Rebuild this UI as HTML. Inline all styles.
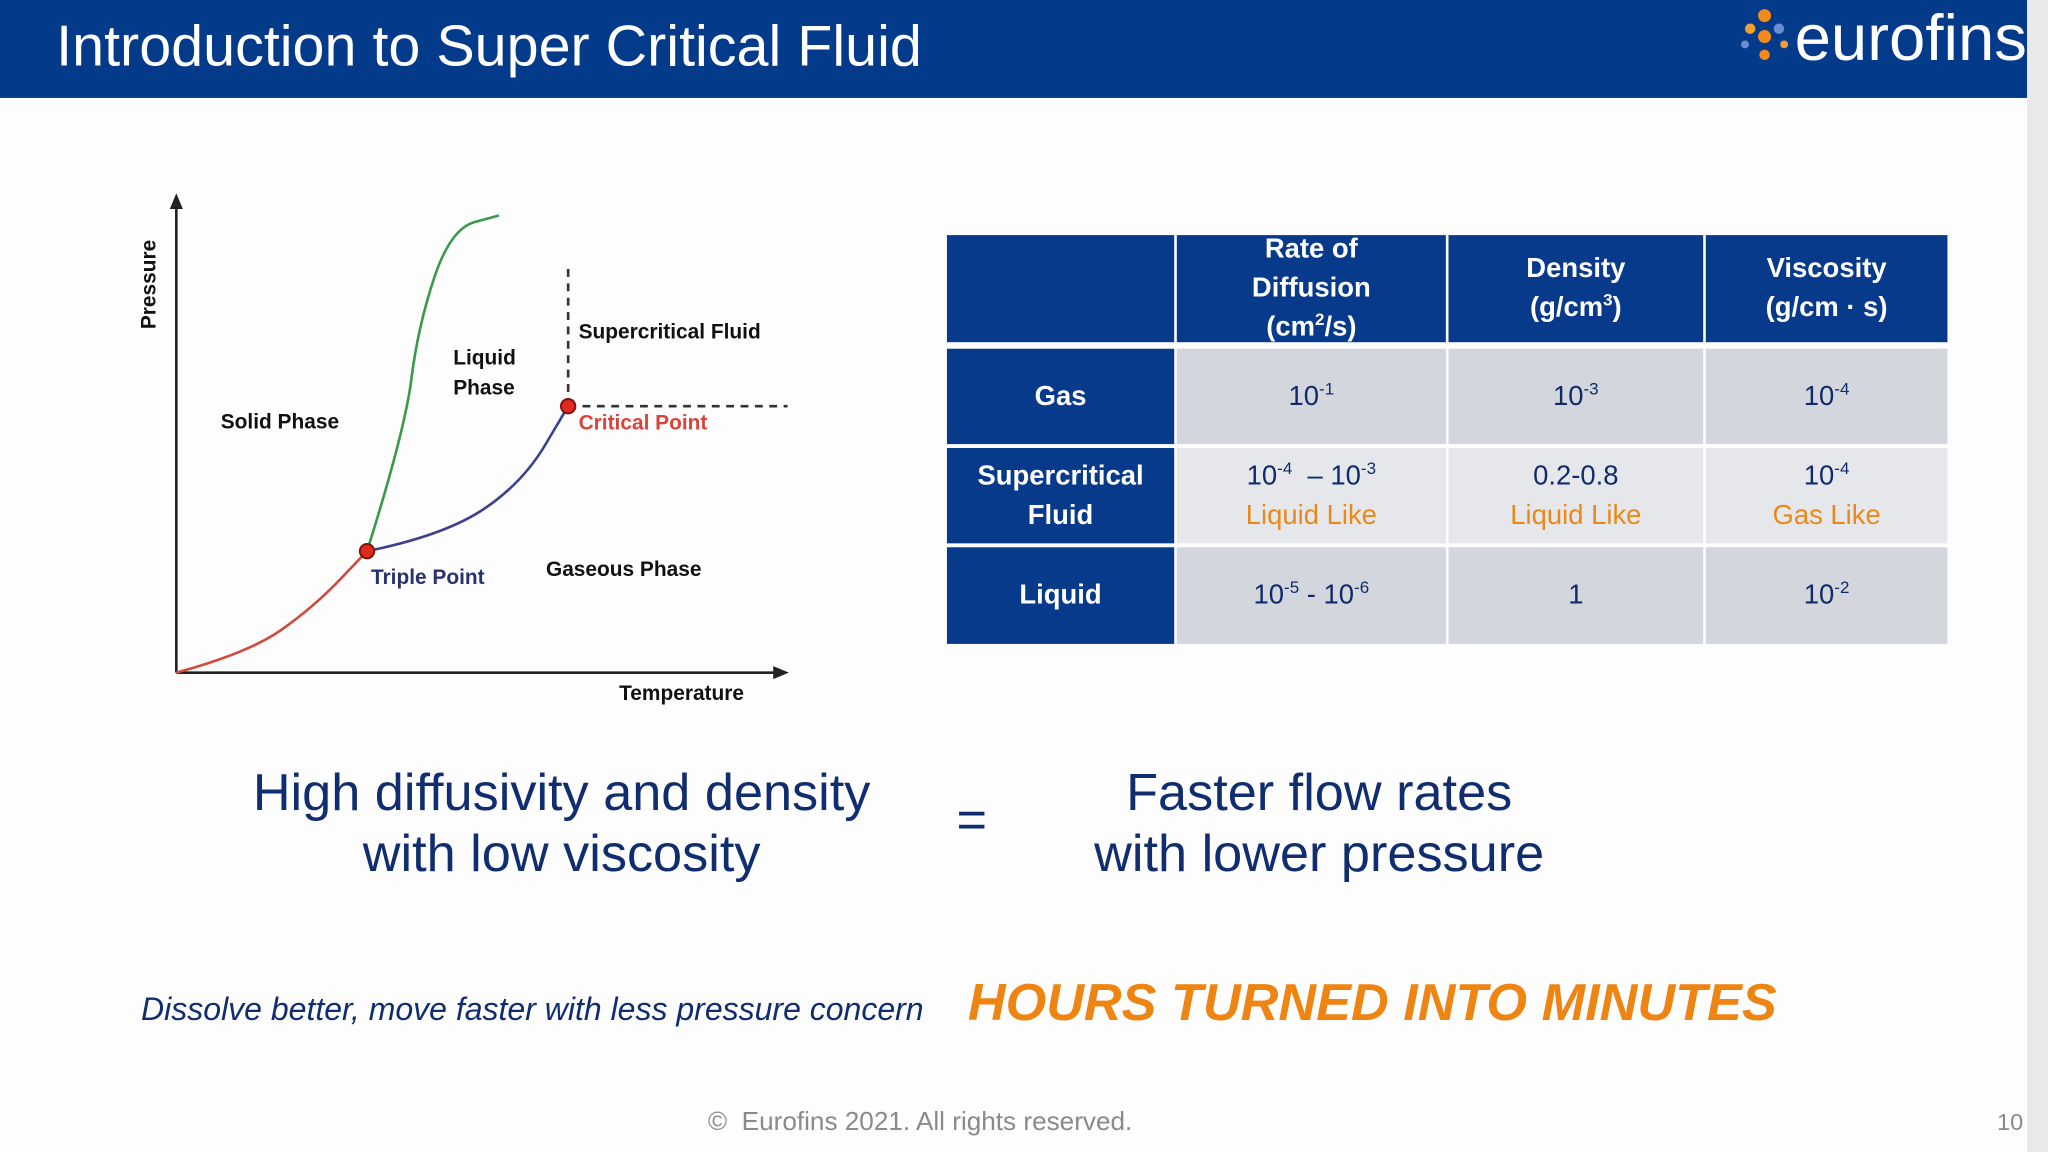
<!DOCTYPE html>
<html><head><meta charset="utf-8">
<style>
html,body{margin:0;padding:0;width:2048px;height:1152px;overflow:hidden;background:#fff}
#s{position:absolute;left:0;top:0;width:1568px;height:882px;transform:scale(1.306122);transform-origin:0 0;font-family:"Liberation Sans",Arial,sans-serif;background:#fdfdfd}
.hdr{position:absolute;left:0;top:0;width:1552px;height:75px;background:#033a8a}
.ttl{position:absolute;left:43px;top:11px;color:#fff;font-size:44px;white-space:nowrap}
.logo{position:absolute;left:1328px;top:0px;color:#fff;font-size:50px;width:224px;overflow:hidden;white-space:nowrap}
.rstrip{position:absolute;left:1552px;top:0;width:16px;height:882px;background:#e9e9ec}
.cell{position:absolute;display:flex;align-items:center;justify-content:center;text-align:center;font-size:21px;line-height:30px;color:#0f2b6b}
.b{background:#083a8c;color:#fff;font-weight:bold}
.g1{background:#d3d6dc}.g2{background:#e6e7eb}
.or{color:#e8891a}
sup{font-size:13px;vertical-align:8px;line-height:0}
.big{position:absolute;font-size:40px;color:#102d70;text-align:center;line-height:47px;white-space:nowrap}
</style></head><body>
<div id="s">
<div class="hdr"></div>
<div class="ttl">Introduction to Super Critical Fluid</div>
<div class="logo"><svg width="46" height="46" style="vertical-align:-4px"><circle cx="23" cy="8" r="5" fill="#f08a1c"/><circle cx="12" cy="18" r="4" fill="#f0a030"/><circle cx="34" cy="18" r="4" fill="#6a8fd0"/><circle cx="23" cy="24" r="5" fill="#f08a1c"/><circle cx="8" cy="30" r="3" fill="#6a8fd0"/><circle cx="38" cy="30" r="3" fill="#f0a030"/><circle cx="23" cy="38" r="4" fill="#f08a1c"/></svg>eurofins</div>
<div class="rstrip"></div>

<svg id="chart" style="position:absolute;left:0;top:0" width="700" height="560"></svg>

<div>
<div class="cell b" style="left:725px;top:180px;width:174px;height:82px"></div>
<div class="cell b" style="left:901px;top:180px;width:206px;height:82px"><div>Rate of<br>Diffusion<br>(cm<sup>2</sup>/s)</div></div>
<div class="cell b" style="left:1109px;top:180px;width:195px;height:82px"><div>Density<br>(g/cm<sup>3</sup>)</div></div>
<div class="cell b" style="left:1306px;top:180px;width:185px;height:82px"><div>Viscosity<br>(g/cm · s)</div></div>

<div class="cell b" style="left:725px;top:267px;width:174px;height:73px">Gas</div>
<div class="cell g1" style="left:901px;top:267px;width:206px;height:73px"><div>10<sup>-1</sup></div></div>
<div class="cell g1" style="left:1109px;top:267px;width:195px;height:73px"><div>10<sup>-3</sup></div></div>
<div class="cell g1" style="left:1306px;top:267px;width:185px;height:73px"><div>10<sup>-4</sup></div></div>

<div class="cell b" style="left:725px;top:343px;width:174px;height:73px"><div>Supercritical<br>Fluid</div></div>
<div class="cell g2" style="left:901px;top:343px;width:206px;height:73px"><div>10<sup>-4</sup> &nbsp;– 10<sup>-3</sup><br><span class="or">Liquid Like</span></div></div>
<div class="cell g2" style="left:1109px;top:343px;width:195px;height:73px"><div>0.2-0.8<br><span class="or">Liquid Like</span></div></div>
<div class="cell g2" style="left:1306px;top:343px;width:185px;height:73px"><div>10<sup>-4</sup><br><span class="or">Gas Like</span></div></div>

<div class="cell b" style="left:725px;top:419px;width:174px;height:74px">Liquid</div>
<div class="cell g1" style="left:901px;top:419px;width:206px;height:74px"><div>10<sup>-5</sup> - 10<sup>-6</sup></div></div>
<div class="cell g1" style="left:1109px;top:419px;width:195px;height:74px">1</div>
<div class="cell g1" style="left:1306px;top:419px;width:185px;height:74px"><div>10<sup>-2</sup></div></div>
</div>

<div class="big" style="left:170px;top:584px;width:520px">High diffusivity and density<br>with low viscosity</div>
<div class="big" style="left:724px;top:605px;width:40px">=</div>
<div class="big" style="left:770px;top:584px;width:480px">Faster flow rates<br>with lower pressure</div>

<div style="position:absolute;left:108px;top:760px;font-size:24.5px;font-style:italic;color:#102d70;white-space:nowrap">Dissolve better, move faster with less pressure concern</div>
<div style="position:absolute;left:741px;top:746px;font-size:40px;font-style:italic;font-weight:bold;color:#ee8412;white-space:nowrap">HOURS TURNED INTO MINUTES</div>

<div style="position:absolute;left:542px;top:848px;font-size:20px;color:#8a8a8a;white-space:nowrap">©&nbsp; Eurofins 2021. All rights reserved.</div>
<div style="position:absolute;left:1529px;top:849px;font-size:18px;color:#8a8a8a">10</div>
</div>
<script>
const sublimation=[[135,515],[190,500],[240,465],[281,422]];
const fusion=[[281,422],[310,330],[320,250],[345,175],[382,165]];
const vaporization=[[281,422],[340,410],[400,370],[435,311]];
const triplePoint=[281,422];
const criticalPoint=[435,311];
const NS='http://www.w3.org/2000/svg';
const svg=document.getElementById('chart');
function mk(t,a,name){const e=document.createElementNS(NS,t);for(const k in a)e.setAttribute(k,a[k]);


svg.appendChild(e);return e;}
function curve(p){let d='M'+p[0][0]+','+p[0][1];
for(let i=1;i<p.length;i++){const b=p[i];
if(i<p.length-1)d+=' Q'+b[0]+','+b[1]+' '+((b[0]+p[i+1][0])/2)+','+((b[1]+p[i+1][1])/2);else d+=' L'+b[0]+','+b[1];}
return d;}
mk('line',{x1:135,y1:515,x2:135,y2:155,stroke:'#222','stroke-width':2},'y-axis');
mk('path',{d:'M130,160 L135,148 L140,160 Z',fill:'#222'},'y-axis-arrow');
mk('line',{x1:135,y1:515,x2:595,y2:515,stroke:'#222','stroke-width':2},'x-axis');
mk('path',{d:'M592,510 L604,515 L592,520 Z',fill:'#222'},'x-axis-arrow');
mk('path',{d:curve(sublimation),fill:'none',stroke:'#d04a3c','stroke-width':2},'sublimation-curve');
mk('path',{d:curve(fusion),fill:'none',stroke:'#3a9a4a','stroke-width':2},'fusion-curve');
mk('path',{d:curve(vaporization),fill:'none',stroke:'#3a4290','stroke-width':2},'vaporization-curve');
mk('line',{x1:criticalPoint[0],y1:criticalPoint[1],x2:criticalPoint[0],y2:205,stroke:'#333','stroke-width':2,'stroke-dasharray':'6,5'},'critical-pressure-line');
mk('line',{x1:criticalPoint[0],y1:criticalPoint[1],x2:603,y2:criticalPoint[1],stroke:'#333','stroke-width':2,'stroke-dasharray':'6,5'},'critical-temp-line');
mk('circle',{cx:triplePoint[0],cy:triplePoint[1],r:5.5,fill:'#e02a20',stroke:'#7a1410','stroke-width':1.5},'triple-point');
mk('circle',{cx:criticalPoint[0],cy:criticalPoint[1],r:5.5,fill:'#e02a20',stroke:'#7a1410','stroke-width':1.5},'critical-point');
const labels=[['Solid Phase',169,328,'#111','solid-label'],['Liquid',347,279,'#111','liquid-label'],['Phase',347,302,'#111','liquid-label-2'],
['Supercritical Fluid',443,259,'#111','supercritical-label'],['Critical Point',443,329,'#d9443a','critical-point-label'],
['Triple Point',284,447,'#2a3170','triple-point-label'],['Gaseous Phase',418,441,'#111','gaseous-label'],['Temperature',474,536,'#111','x-axis-title']];
labels.forEach(l=>{const t=mk('text',{x:l[1],y:l[2],fill:l[3],'font-size':16,'font-weight':'bold','font-family':'Liberation Sans, sans-serif'},l[4]);t.textContent=l[0];});
const yt=mk('text',{x:0,y:0,fill:'#111','font-size':16,'font-weight':'bold','font-family':'Liberation Sans, sans-serif',transform:'translate(119,252) rotate(-90)'},'y-axis-title');yt.textContent='Pressure';
</script>
</body></html>
